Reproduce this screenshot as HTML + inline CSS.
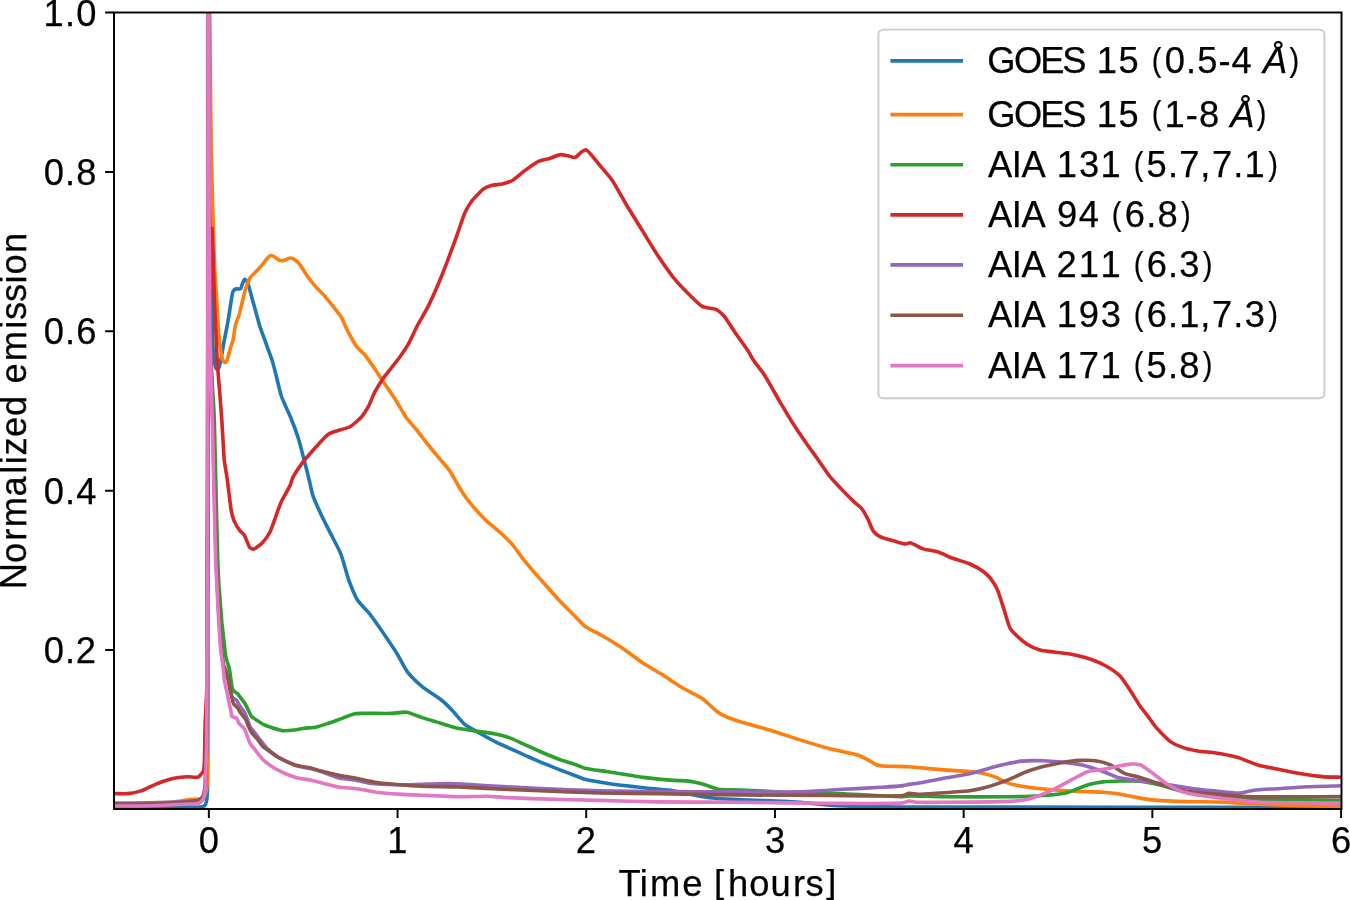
<!DOCTYPE html>
<html><head><meta charset="utf-8"><style>
html,body{margin:0;padding:0;background:#fff;width:1350px;height:900px;overflow:hidden}
svg{display:block;font-family:"Liberation Sans",sans-serif}
text{will-change:transform;stroke:#000;stroke-width:0.25px}
</style></head><body>
<svg width="1350" height="900" viewBox="0 0 1350 900">
<rect width="1350" height="900" fill="#fff"/>
<defs><clipPath id="ax"><rect x="114.0" y="12.5" width="1227.5" height="796.5"/></clipPath></defs>
<g clip-path="url(#ax)" fill="none" stroke-width="3.60" stroke-linejoin="round" stroke-linecap="butt">
<path stroke="#1f77b4" d="M114.00,807.50 C123.20,807.44 151.12,807.25 160.00,807.20 C168.28,807.15 196.36,807.37 200.00,807.00 C201.09,806.89 202.93,806.60 203.50,806.30 C204.01,806.03 205.19,804.84 205.50,804.30 C205.91,803.58 206.61,800.68 206.80,799.50 C207.09,797.71 207.39,791.38 207.50,788.00 L207.90,700.00 L208.20,12.50 C208.35,12.35 208.85,12.35 209.00,12.50 L210.20,150.00 L211.20,250.00 L212.20,320.00 C212.37,327.25 212.87,345.36 213.20,350.00 C213.41,352.95 214.16,359.97 214.50,362.00 C214.75,363.51 215.45,367.80 216.00,368.50 C216.32,368.90 217.66,369.64 218.00,369.50 C218.55,369.28 219.60,365.48 220.00,364.00 C220.76,361.18 223.00,347.29 223.80,343.00 C224.64,338.50 227.45,324.32 228.20,320.00 C228.86,316.19 230.46,305.11 231.00,302.00 C231.41,299.61 232.30,292.82 233.00,291.50 C233.40,290.74 234.96,289.24 235.50,289.00 C235.93,288.81 237.32,288.91 237.80,288.90 C238.33,288.89 240.18,289.20 240.60,288.90 C241.15,288.51 241.84,285.32 242.20,284.40 C242.59,283.42 243.85,279.55 244.40,279.40 C244.80,279.29 246.30,280.58 246.70,281.10 C247.27,281.85 248.45,285.35 248.90,286.70 C249.55,288.66 251.53,296.46 252.20,298.90 C252.87,301.34 254.87,308.51 255.60,311.10 C256.42,314.03 259.07,323.79 260.00,326.70 C260.84,329.31 263.66,336.85 264.40,338.90 C264.93,340.38 266.14,343.76 266.70,345.30 C267.54,347.64 271.07,357.04 272.00,360.00 C272.92,362.92 275.16,371.48 276.00,374.70 C277.01,378.56 280.12,392.48 281.30,396.00 C282.17,398.60 285.06,404.86 286.00,407.00 C286.90,409.05 289.52,414.61 290.50,417.00 C291.90,420.44 296.89,433.84 298.30,438.30 C299.81,443.07 303.83,458.80 305.00,463.30 C305.95,466.97 308.40,476.71 309.20,480.00 C309.97,483.17 311.85,492.42 312.90,495.60 C314.06,499.09 318.90,509.74 320.60,513.40 C322.45,517.38 328.76,529.81 330.80,533.90 C332.84,537.99 339.26,549.91 341.00,554.30 C342.89,559.05 346.95,575.12 348.70,579.90 C350.30,584.26 355.38,596.84 357.60,600.30 C359.56,603.34 366.82,610.26 369.10,613.10 C371.68,616.32 379.26,627.17 381.90,631.00 C384.86,635.29 394.51,649.64 397.20,654.00 C399.52,657.76 404.89,668.62 407.40,671.90 C409.98,675.27 419.41,684.38 422.80,687.20 C426.31,690.12 438.81,697.89 442.00,700.50 C444.53,702.57 450.47,708.47 452.60,710.70 C454.95,713.15 461.64,721.82 464.40,724.10 C467.24,726.45 477.50,731.88 480.70,733.70 C483.73,735.43 492.40,740.29 495.60,741.90 C499.17,743.70 510.69,748.85 514.80,750.70 C519.49,752.82 535.10,759.84 540.00,761.90 C544.56,763.82 558.44,769.24 562.20,770.70 C564.94,771.76 571.72,774.31 574.10,775.20 C576.46,776.09 583.17,778.85 585.90,779.60 C589.44,780.57 601.93,782.59 606.70,783.30 C613.03,784.25 636.71,787.03 643.70,787.80 C649.95,788.49 667.40,789.82 673.30,790.70 C679.26,791.59 698.07,795.90 703.00,796.70 C706.46,797.26 714.27,798.20 717.80,798.50 C723.00,798.94 742.85,799.68 750.00,800.00 C758.90,800.40 791.28,801.57 800.00,802.20 C806.77,802.69 823.56,804.76 830.00,805.20 C837.42,805.71 862.57,806.52 870.00,806.70 C876.43,806.85 890.48,806.95 900.00,807.00 C936.52,807.19 1253.20,807.24 1341.50,807.30"/>
<path stroke="#ff7f0e" d="M114.00,804.00 C121.20,803.96 143.85,804.02 150.00,803.80 C154.59,803.64 166.01,802.92 170.00,802.50 C174.01,802.08 186.90,799.90 190.00,799.60 C191.95,799.41 196.60,799.40 198.00,799.20 C199.13,799.04 202.22,798.62 203.00,798.00 C203.89,797.29 205.57,793.45 206.00,792.00 C206.58,790.05 207.19,783.47 207.40,780.00 L207.90,700.00 L208.60,12.50 C208.81,12.29 209.51,12.31 209.70,12.50 L210.20,60.00 L211.20,150.00 L212.50,200.00 L214.70,270.00 C215.02,276.26 216.19,290.00 216.50,295.00 C216.81,300.00 217.47,315.11 217.80,320.00 C218.12,324.70 219.25,339.15 219.70,343.00 C220.02,345.79 221.09,353.07 221.50,355.00 C221.78,356.32 222.54,359.71 223.00,360.50 C223.32,361.05 224.60,362.50 225.00,362.50 C225.40,362.50 226.65,361.10 227.00,360.50 C227.62,359.43 228.77,353.84 229.30,352.00 C229.94,349.80 232.39,342.58 233.00,340.00 C233.68,337.11 234.89,327.05 235.60,324.40 C236.15,322.36 238.29,317.56 238.90,315.60 C239.64,313.22 241.53,304.87 242.20,302.20 C242.87,299.53 244.78,291.42 245.60,288.90 C246.36,286.55 248.93,279.45 250.00,277.80 C250.78,276.60 253.43,274.31 254.40,273.30 C255.61,272.03 259.79,267.62 261.10,266.10 C262.47,264.52 266.63,258.93 267.80,257.80 C268.53,257.09 270.41,255.39 271.10,255.30 C271.74,255.22 273.71,256.31 274.40,256.70 C275.26,257.19 277.95,259.62 278.90,260.00 C279.74,260.34 282.34,260.71 283.30,260.60 C284.52,260.46 288.79,258.04 290.00,258.00 C290.97,257.97 293.56,258.93 294.40,259.40 C295.35,259.93 297.93,262.20 298.90,263.30 C300.49,265.11 305.96,274.18 307.80,276.70 C309.53,279.07 314.93,285.82 316.70,287.80 C318.25,289.54 322.85,293.86 324.40,295.60 C326.17,297.58 331.59,304.53 333.30,306.70 C334.92,308.75 339.77,314.51 341.10,316.70 C342.47,318.96 345.56,326.68 346.70,329.00 C347.74,331.12 350.94,337.15 352.00,339.00 C352.94,340.66 355.52,345.20 356.70,346.70 C358.05,348.41 363.29,352.96 365.00,355.00 C367.25,357.68 374.47,368.44 376.70,371.70 C378.80,374.77 384.70,383.70 386.70,386.70 C388.70,389.70 394.73,398.60 396.70,401.70 C398.74,404.91 404.57,415.35 406.70,418.30 C408.60,420.93 414.66,427.49 416.70,430.00 C418.97,432.79 426.01,442.14 428.30,445.00 C430.45,447.68 436.75,455.22 438.90,457.80 C441.09,460.44 448.01,468.24 450.00,471.10 C452.02,474.01 457.07,483.74 458.90,486.70 C460.63,489.50 465.60,497.15 467.80,500.00 C470.65,503.68 482.05,516.51 485.60,520.00 C488.70,523.05 498.30,530.71 501.10,533.30 C503.55,535.57 509.97,541.83 512.20,544.40 C514.86,547.46 522.76,558.69 525.60,562.20 C528.53,565.81 537.88,576.35 541.10,580.00 C544.53,583.89 555.41,596.29 558.90,600.00 C562.06,603.36 571.55,612.75 574.40,615.60 C576.82,618.01 583.01,624.78 585.60,626.70 C588.37,628.75 598.10,633.24 601.50,635.20 C605.55,637.53 619.09,645.86 623.30,648.70 C627.44,651.49 639.24,660.61 643.30,663.30 C647.24,665.91 659.46,672.89 663.30,675.30 C666.92,677.57 677.25,684.65 680.70,686.70 C683.93,688.62 694.21,693.88 696.70,695.30 C698.32,696.23 701.81,698.19 703.30,699.30 C705.58,700.99 714.42,709.61 716.70,711.30 C718.19,712.41 721.68,714.50 723.30,715.30 C725.62,716.44 734.47,719.82 738.00,721.00 C743.09,722.71 763.39,728.11 769.60,730.00 C775.65,731.84 793.36,737.75 799.30,739.60 C805.22,741.45 822.95,746.93 828.90,748.50 C834.79,750.05 854.16,753.65 858.50,755.20 C861.19,756.16 867.01,759.37 868.90,760.40 C870.52,761.29 874.86,764.24 876.30,764.80 C877.51,765.27 880.58,765.82 882.20,766.00 C885.60,766.39 903.36,766.37 908.90,766.70 C914.89,767.06 933.85,769.12 940.00,769.60 C945.99,770.07 964.70,770.98 969.60,771.50 C973.08,771.87 981.62,773.07 984.40,773.70 C986.93,774.28 994.04,776.49 996.30,777.40 C998.49,778.28 1004.38,781.74 1006.70,782.60 C1009.35,783.58 1018.22,785.69 1021.50,786.30 C1025.47,787.03 1038.94,788.53 1043.70,789.00 C1049.19,789.54 1067.37,790.88 1073.30,791.20 C1079.23,791.52 1098.09,791.87 1103.00,792.20 C1106.47,792.43 1114.55,793.21 1117.80,793.70 C1121.80,794.30 1135.97,797.44 1140.00,798.10 C1143.32,798.65 1151.63,799.78 1155.20,800.10 C1160.23,800.55 1179.18,801.40 1185.60,801.60 C1192.76,801.82 1216.88,801.84 1223.50,802.10 C1228.64,802.30 1240.96,803.32 1246.30,803.60 C1253.85,804.00 1282.59,805.14 1291.90,805.40 C1301.61,805.67 1331.58,806.04 1341.50,806.20"/>
<path stroke="#2ca02c" d="M114.00,805.50 C121.20,805.44 142.61,805.36 150.00,805.20 C157.79,805.03 185.06,804.04 190.00,803.80 C192.21,803.69 196.65,803.81 198.00,803.30 C199.20,802.85 202.29,800.51 203.00,799.40 C203.88,798.03 204.86,792.55 205.20,790.00 L206.60,750.00 L207.60,500.00 L208.10,12.50 C208.24,12.37 208.67,12.37 208.80,12.50 L209.10,200.00 L209.80,320.00 L211.00,360.00 C211.27,366.43 212.30,385.03 212.60,390.00 C212.81,393.52 213.43,402.00 213.60,405.00 C213.77,408.00 214.14,415.48 214.30,420.00 L217.70,560.00 C217.95,567.03 218.55,579.51 218.90,585.00 L221.80,622.20 L225.70,656.40 C226.37,659.77 229.05,667.35 229.60,670.00 C230.11,672.46 230.85,679.88 231.20,682.00 C231.48,683.70 232.16,688.56 232.70,689.60 C233.06,690.28 234.50,691.59 235.00,692.00 C235.48,692.39 237.14,693.17 237.60,693.60 C238.11,694.08 239.26,695.96 239.80,696.70 C240.63,697.83 244.19,702.34 245.10,703.80 C245.96,705.18 248.03,709.58 248.70,710.90 C249.28,712.05 250.59,715.36 251.40,716.30 C252.30,717.36 256.35,719.85 257.60,720.70 C258.83,721.53 262.42,724.01 263.80,724.70 C265.32,725.46 270.43,727.23 272.20,727.80 C274.10,728.42 280.08,730.36 282.20,730.60 C284.50,730.86 292.09,730.25 294.40,730.00 C296.51,729.77 302.34,728.58 304.40,728.30 C306.57,728.01 313.39,727.63 315.60,727.20 C317.85,726.76 324.49,724.62 326.70,723.90 C328.93,723.18 335.35,720.88 337.80,720.00 C340.84,718.90 351.47,714.33 354.80,713.70 C357.81,713.13 366.34,713.43 369.60,713.40 C373.60,713.36 387.90,713.56 391.90,713.40 C395.17,713.27 403.78,711.82 406.70,712.20 C409.70,712.59 418.53,716.43 421.50,717.40 C424.45,718.37 433.14,720.94 436.30,721.90 C439.90,723.00 451.79,726.91 455.60,727.80 C459.19,728.64 469.55,730.11 473.30,730.70 C477.50,731.36 491.62,733.26 495.60,734.10 C498.88,734.79 507.48,737.05 510.40,738.10 C513.40,739.18 522.24,743.46 525.20,744.80 C528.16,746.14 536.72,750.10 540.00,751.50 C543.97,753.20 558.42,759.06 562.20,760.40 C564.93,761.37 571.74,763.29 574.10,764.10 C576.48,764.91 583.16,767.80 585.90,768.50 C589.43,769.40 601.95,770.78 606.70,771.50 C613.04,772.46 636.70,776.49 643.70,777.40 C649.94,778.21 668.32,780.04 673.30,780.40 C676.91,780.66 685.77,780.68 688.90,781.10 C692.11,781.53 702.40,783.93 705.00,784.70 C706.82,785.24 711.17,787.02 712.60,787.50 C713.85,787.92 716.93,789.04 718.50,789.30 C721.43,789.79 734.93,789.79 740.00,790.00 C747.29,790.30 774.88,791.84 784.40,792.20 C795.40,792.61 831.84,793.25 843.70,793.70 C855.56,794.15 896.81,796.88 903.00,796.70 C905.19,796.64 908.42,795.98 910.40,795.90 C914.34,795.74 932.74,796.60 940.00,796.70 C951.48,796.86 1002.62,796.93 1014.10,796.70 C1021.36,796.55 1038.21,795.92 1043.70,795.50 C1048.47,795.14 1061.52,794.04 1065.90,793.00 C1070.41,791.93 1084.06,785.93 1088.10,784.80 C1091.34,783.89 1099.33,782.29 1103.00,781.90 C1108.73,781.29 1133.75,780.56 1140.00,781.10 C1144.64,781.50 1155.80,784.00 1160.00,785.00 C1164.74,786.12 1179.73,790.92 1185.00,792.00 C1190.69,793.17 1208.93,795.34 1215.00,796.00 C1221.19,796.67 1239.51,798.25 1246.30,798.60 C1254.31,799.01 1280.90,799.31 1290.00,799.50 C1299.88,799.71 1331.20,800.38 1341.50,800.60"/>
<path stroke="#d62728" d="M114.00,793.60 C116.76,793.60 125.08,793.87 127.80,793.60 C130.50,793.33 138.97,791.57 141.10,790.90 C142.60,790.43 145.95,788.80 147.30,788.20 C148.92,787.48 154.41,784.95 156.20,784.20 C157.97,783.45 163.30,781.29 165.10,780.70 C166.86,780.12 172.03,778.68 174.00,778.30 C176.38,777.84 184.78,776.80 187.30,776.70 C189.55,776.61 196.35,777.79 198.00,777.10 C199.42,776.51 202.65,772.72 203.30,771.30 C204.01,769.75 204.25,764.26 204.40,762.00 C204.64,758.54 204.72,744.18 204.80,740.00 C204.88,736.22 205.05,726.11 205.20,722.00 L206.80,690.00 L207.80,500.00 L208.50,300.00 L208.85,232.00 C209.35,230.70 211.52,228.33 212.00,228.50 L213.20,260.00 L214.40,300.00 C214.58,304.69 215.08,315.29 215.30,320.00 L217.20,361.00 C217.60,367.30 219.04,384.15 219.50,390.00 C219.96,395.95 221.37,413.61 221.80,420.00 L224.10,458.90 C224.60,463.61 226.58,474.62 227.20,479.10 L231.10,510.20 C231.66,512.97 233.32,519.06 234.20,521.10 C235.06,523.09 238.56,528.91 239.70,530.40 C240.59,531.56 243.44,533.84 244.30,535.10 C245.53,536.91 248.51,546.24 249.80,547.50 C250.52,548.20 252.81,549.21 253.70,549.10 C255.11,548.93 260.65,544.46 262.20,542.90 C263.95,541.13 268.49,534.84 270.00,532.00 C272.31,527.64 278.61,507.44 280.90,502.40 C282.70,498.44 289.03,488.01 290.20,485.30 C290.92,483.63 291.72,479.94 292.50,478.30 C293.79,475.62 301.08,464.67 303.30,461.70 C305.26,459.09 311.06,452.48 313.30,450.00 C315.96,447.04 325.24,436.19 328.30,434.20 C330.61,432.69 337.75,430.78 340.00,430.00 C342.07,429.29 348.03,427.81 350.00,426.70 C352.38,425.36 359.81,418.84 361.70,416.70 C363.37,414.81 367.06,408.96 368.30,406.70 C369.75,404.05 373.48,394.57 375.00,391.70 C376.49,388.89 381.57,380.79 383.30,378.30 C384.92,375.98 390.03,369.66 391.70,367.50 C393.37,365.34 398.38,358.97 400.00,356.70 C401.70,354.32 406.70,346.99 408.30,344.20 C410.16,340.96 415.28,329.66 417.20,326.00 C419.19,322.20 425.84,310.98 427.90,306.90 C430.16,302.43 436.66,287.80 438.70,283.00 C440.72,278.24 446.33,264.01 448.20,259.10 C450.15,253.98 456.03,237.72 457.80,232.80 C459.35,228.48 463.37,215.96 465.00,212.50 C466.32,209.71 470.41,202.79 472.20,200.50 C474.16,197.99 481.88,190.11 484.10,188.60 C485.61,187.57 489.64,185.97 491.30,185.50 C493.35,184.92 500.98,184.37 503.20,183.80 C505.25,183.27 510.86,181.30 512.80,180.20 C515.17,178.85 522.25,172.46 524.80,170.60 C527.49,168.63 536.43,162.28 539.10,161.10 C541.13,160.20 546.69,159.30 548.70,158.70 C550.97,158.03 558.50,154.78 560.60,154.60 C562.20,154.47 566.36,155.51 567.80,155.80 C569.24,156.09 573.64,157.83 575.00,157.50 C576.52,157.14 580.80,152.26 582.10,151.50 C583.02,150.96 585.42,149.65 586.40,149.90 C588.38,150.40 596.21,161.08 598.70,164.00 C601.33,167.08 609.42,176.31 612.00,180.00 C615.06,184.37 623.60,200.13 626.70,205.30 C629.98,210.78 640.76,228.08 644.00,233.30 C646.83,237.87 654.45,250.40 657.30,254.70 C660.29,259.20 670.12,273.35 673.30,277.30 C675.99,280.65 683.83,289.12 686.70,292.00 C689.70,295.01 699.41,305.03 702.70,306.70 C705.30,308.02 713.79,308.24 716.00,309.30 C717.94,310.23 722.41,314.23 724.00,316.00 C726.16,318.41 732.42,328.69 734.70,332.00 C737.19,335.61 746.00,347.56 748.00,350.70 C749.37,352.84 752.00,358.02 753.30,360.00 C754.92,362.47 761.18,370.11 763.30,373.30 C766.19,377.65 775.89,394.91 778.90,400.00 C781.65,404.65 789.48,417.91 792.20,422.20 C794.82,426.34 803.02,438.47 805.60,442.20 C807.90,445.53 814.38,454.53 816.70,457.80 C819.24,461.40 827.22,473.26 830.00,476.70 C832.56,479.87 840.73,488.43 843.30,491.10 C845.60,493.49 852.42,500.39 854.40,502.20 C855.87,503.55 859.87,506.36 861.10,507.80 C862.60,509.55 866.59,516.59 867.80,518.90 C869.03,521.25 871.89,529.24 873.30,531.10 C874.44,532.60 878.29,535.77 880.00,536.70 C882.24,537.92 891.69,540.34 894.40,541.10 C896.77,541.77 903.88,544.03 905.60,544.00 C906.69,543.98 908.90,542.62 910.00,542.70 C911.96,542.85 920.48,547.96 923.30,548.90 C926.24,549.88 935.96,551.25 938.90,552.20 C941.68,553.10 949.14,556.89 952.00,558.00 C955.29,559.27 966.69,562.52 970.00,564.00 C973.05,565.36 981.80,570.32 984.00,572.00 C985.69,573.29 989.45,577.11 990.70,578.70 C992.14,580.53 996.10,586.93 997.30,589.50 C998.85,592.82 1002.66,605.51 1004.00,609.50 C1005.34,613.47 1008.47,625.87 1010.70,629.30 C1012.97,632.79 1023.47,641.87 1026.70,644.00 C1029.34,645.74 1036.72,649.06 1040.00,650.00 C1044.72,651.35 1064.63,652.97 1070.00,654.00 C1074.43,654.85 1086.27,657.73 1090.00,659.00 C1093.43,660.17 1102.99,664.29 1106.00,666.00 C1108.99,667.70 1117.60,673.60 1120.00,676.00 C1122.40,678.40 1128.04,687.08 1130.00,690.00 C1132.05,693.06 1138.07,703.23 1140.00,706.00 C1141.57,708.24 1146.10,713.79 1147.60,715.80 C1149.14,717.86 1153.31,724.17 1155.20,726.40 C1157.63,729.26 1167.35,739.44 1170.40,741.60 C1172.81,743.31 1179.89,746.48 1182.50,747.40 C1185.32,748.40 1194.51,750.45 1197.70,751.00 C1201.16,751.60 1212.13,752.41 1215.90,753.00 C1220.01,753.64 1233.86,756.36 1237.20,757.30 C1239.43,757.93 1244.35,759.88 1246.30,760.60 C1248.56,761.44 1255.78,764.41 1258.50,765.20 C1261.74,766.14 1272.85,768.22 1276.70,769.00 C1281.00,769.87 1294.93,772.74 1299.50,773.50 C1304.03,774.26 1317.84,776.22 1322.20,776.60 C1326.21,776.95 1337.64,777.16 1341.50,777.30"/>
<path stroke="#9467bd" d="M114.00,803.00 C121.20,802.96 142.61,802.95 150.00,802.80 C157.79,802.64 184.68,802.02 190.00,801.40 C192.68,801.09 198.66,800.17 200.00,799.40 C200.89,798.89 202.52,796.96 203.00,796.00 C203.76,794.49 204.95,787.84 205.30,785.00 L206.60,750.00 L207.60,500.00 L208.10,12.50 C208.20,12.40 208.50,12.40 208.60,12.50 L209.20,200.00 L209.80,320.00 C209.93,328.00 210.40,343.24 210.60,350.00 L212.20,400.00 C212.36,404.90 212.73,414.19 212.90,420.00 L216.20,560.00 L218.80,610.00 L221.20,645.00 C221.66,650.09 222.92,665.27 223.80,668.00 C224.20,669.26 225.80,671.31 226.20,672.30 C226.68,673.50 227.65,677.74 228.00,679.30 C228.44,681.25 229.69,688.45 230.10,690.30 C230.40,691.65 231.10,695.21 231.60,696.10 C232.00,696.81 233.65,698.35 234.20,698.80 C234.71,699.22 236.46,700.02 236.90,700.50 C237.39,701.04 238.25,703.33 238.70,704.10 C239.27,705.08 241.63,708.45 242.30,709.40 C242.86,710.19 244.43,712.12 244.90,713.00 C245.52,714.15 247.06,718.68 247.60,720.10 C248.14,721.52 249.57,725.93 250.30,727.20 C251.00,728.42 253.79,731.44 254.70,732.60 C255.72,733.91 258.84,738.21 260.00,739.70 C261.31,741.39 265.47,746.92 267.20,748.60 C269.16,750.51 276.22,755.88 278.90,757.50 C282.00,759.37 293.34,764.69 296.70,765.80 C299.50,766.72 307.47,767.90 310.00,768.50 C312.33,769.05 318.67,770.72 321.10,771.50 C324.12,772.48 334.39,776.95 337.80,777.80 C341.14,778.63 351.53,779.43 354.80,780.00 C357.88,780.54 366.11,782.83 369.60,783.30 C374.49,783.96 393.36,784.72 399.30,784.80 C405.22,784.88 423.62,784.23 428.90,784.10 C433.15,783.99 444.00,783.56 448.10,783.60 C452.80,783.65 468.05,784.52 473.30,784.80 C479.00,785.11 496.73,786.25 503.00,786.60 C509.99,786.99 531.73,788.13 540.00,788.50 C550.47,788.96 587.44,790.40 599.30,790.70 C611.14,791.00 645.72,791.38 658.50,791.50 C673.50,791.64 724.99,791.86 740.00,791.90 C752.80,791.93 788.30,792.22 799.30,791.90 C808.83,791.62 835.22,789.78 843.70,789.30 C851.44,788.86 874.23,787.72 880.70,787.30 C885.72,786.97 899.75,786.05 903.00,785.60 C904.89,785.34 908.91,784.33 910.40,784.10 C911.87,783.87 915.93,783.59 917.80,783.30 C921.06,782.80 935.24,779.79 940.00,778.90 C945.49,777.87 963.71,775.02 969.60,773.70 C975.57,772.37 993.77,766.91 999.30,765.60 C1004.04,764.47 1017.04,761.58 1021.50,761.10 C1025.92,760.63 1039.71,760.68 1043.70,760.80 C1046.96,760.90 1055.25,761.57 1058.50,761.90 C1062.50,762.31 1076.29,763.86 1080.70,764.80 C1085.19,765.76 1099.02,770.11 1103.00,771.50 C1106.29,772.65 1114.48,776.51 1117.80,777.40 C1121.74,778.46 1135.53,780.06 1140.00,780.70 C1144.53,781.34 1157.92,783.07 1162.80,783.80 C1168.45,784.64 1187.55,787.96 1193.20,788.70 C1198.06,789.34 1211.35,790.57 1215.90,791.00 C1220.45,791.43 1234.61,793.19 1238.70,793.00 C1242.06,792.84 1250.54,790.62 1253.90,790.20 C1257.99,789.69 1271.82,789.02 1276.70,788.70 C1282.33,788.33 1300.74,787.00 1307.00,786.70 C1313.67,786.38 1334.60,785.90 1341.50,785.70"/>
<path stroke="#8c564b" d="M114.00,804.00 C121.20,803.96 142.61,804.02 150.00,803.80 C157.79,803.56 184.68,802.22 190.00,801.60 C192.68,801.29 198.66,800.54 200.00,799.80 C200.89,799.31 202.52,797.43 203.00,796.50 C203.75,795.05 204.95,788.75 205.30,786.00 L206.60,750.00 L207.60,500.00 L208.10,12.50 C208.20,12.40 208.50,12.40 208.60,12.50 L209.20,200.00 L209.80,320.00 C209.93,328.00 210.42,343.24 210.60,350.00 L212.00,400.00 C212.15,404.90 212.53,414.19 212.70,420.00 L216.00,560.00 L218.60,610.00 L221.00,645.00 C221.44,649.56 222.80,662.36 223.50,665.00 C223.87,666.37 225.19,668.84 225.60,670.00 C226.14,671.51 227.71,676.93 228.20,678.90 C228.79,681.28 230.41,689.81 230.90,692.20 C231.30,694.16 232.36,699.84 232.70,701.10 C232.89,701.80 233.29,703.29 233.60,703.80 C233.95,704.38 235.73,706.02 236.20,706.50 C236.59,706.90 237.67,707.85 238.00,708.30 C238.41,708.86 239.33,711.08 239.80,711.80 C240.36,712.67 242.75,715.45 243.40,716.30 C243.97,717.04 245.53,718.94 246.00,719.80 C246.62,720.94 248.13,725.59 248.70,726.90 C249.21,728.07 250.66,731.19 251.40,732.30 C252.33,733.68 256.43,737.96 257.60,739.40 C258.73,740.80 261.87,745.47 262.90,746.50 C263.63,747.24 265.56,748.52 266.50,749.20 C268.23,750.45 276.11,756.24 278.90,757.80 C282.06,759.57 293.34,764.60 296.70,765.60 C299.50,766.43 307.48,767.22 310.00,767.80 C312.34,768.34 318.64,770.45 321.10,771.10 C324.09,771.89 334.44,774.30 337.80,775.00 C341.18,775.70 351.18,777.40 354.80,778.10 C358.95,778.90 372.54,781.93 377.00,782.60 C381.44,783.27 394.84,784.43 399.30,784.80 C403.74,785.17 416.49,786.08 421.50,786.30 C427.96,786.58 450.76,786.73 458.50,787.00 C466.99,787.30 494.51,788.92 503.00,789.30 C510.74,789.65 531.73,790.38 540.00,790.70 C550.47,791.10 587.44,792.70 599.30,793.00 C611.14,793.30 645.72,793.53 658.50,793.70 C673.50,793.90 723.35,794.72 740.00,794.90 C757.39,795.09 811.93,795.44 828.90,795.50 C844.39,795.55 896.52,796.62 903.00,795.50 C904.88,795.17 907.58,793.55 908.90,793.40 C910.48,793.22 915.62,794.35 917.80,794.40 C921.24,794.48 935.24,793.33 940.00,793.00 C945.50,792.61 964.71,791.37 969.60,790.70 C973.08,790.22 981.17,788.65 984.40,787.80 C988.44,786.74 1002.28,782.09 1006.70,780.40 C1011.18,778.68 1024.07,772.35 1028.90,770.70 C1034.32,768.85 1052.98,764.35 1058.50,763.30 C1063.23,762.40 1076.69,760.61 1080.70,760.40 C1083.97,760.23 1092.65,760.37 1095.60,760.80 C1098.59,761.24 1107.52,763.57 1110.40,764.80 C1113.45,766.10 1122.14,772.43 1125.20,773.70 C1128.07,774.89 1136.74,776.46 1140.00,777.40 C1144.09,778.58 1158.22,783.54 1162.80,784.90 C1167.34,786.25 1180.68,790.10 1185.60,791.00 C1191.19,792.02 1209.83,793.44 1215.90,794.00 C1221.97,794.56 1239.60,796.30 1246.30,796.60 C1254.49,796.97 1282.59,796.80 1291.90,796.80 C1301.61,796.80 1331.58,796.64 1341.50,796.60"/>
<path stroke="#e377c2" d="M114.00,806.00 C121.20,805.94 142.61,805.89 150.00,805.70 C157.79,805.50 185.06,804.26 190.00,804.00 C192.21,803.88 196.66,804.03 198.00,803.50 C199.21,803.03 202.29,800.54 203.00,799.40 C203.87,798.00 204.86,792.55 205.20,790.00 L206.60,750.00 L207.60,500.00 L208.10,12.50 C208.25,12.35 208.75,12.35 208.90,12.50 L209.10,200.00 L209.60,320.00 C209.71,328.00 210.13,343.24 210.30,350.00 L211.60,400.00 C211.74,404.90 212.04,414.19 212.20,420.00 L215.60,560.00 L217.90,606.70 L220.20,645.50 C220.71,650.78 222.86,665.08 223.30,668.90 C223.60,671.53 224.03,677.56 224.40,680.00 C224.85,683.01 227.12,693.42 227.80,696.70 C228.46,699.86 230.72,710.13 231.10,712.20 C231.29,713.24 231.24,715.51 231.70,716.10 C232.24,716.80 235.98,717.58 236.70,718.30 C237.42,719.02 238.24,722.33 238.90,723.30 C239.69,724.46 243.43,727.39 244.40,728.90 C245.77,731.02 248.78,741.15 250.00,743.30 C250.83,744.76 253.36,747.59 254.40,748.90 C255.87,750.75 261.40,758.15 263.30,760.00 C264.98,761.63 270.32,765.49 272.20,766.70 C274.10,767.93 279.98,771.16 282.20,772.20 C284.80,773.41 293.82,777.02 296.70,777.80 C299.38,778.53 306.82,779.35 310.00,780.00 C314.81,780.98 335.02,786.50 340.00,787.30 C343.45,787.86 351.55,788.10 354.80,788.50 C358.80,788.99 372.54,791.64 377.00,792.20 C381.44,792.76 394.84,793.80 399.30,794.10 C403.74,794.40 416.50,794.97 421.50,795.20 C427.96,795.49 451.51,796.62 458.50,796.70 C464.75,796.77 483.19,796.04 488.10,796.20 C491.59,796.31 499.35,797.18 503.00,797.40 C508.74,797.75 531.73,798.63 540.00,798.90 C550.47,799.24 587.45,800.10 599.30,800.40 C611.14,800.70 645.71,801.71 658.50,801.90 C673.50,802.13 723.35,802.17 740.00,802.30 C757.39,802.44 811.93,803.25 828.90,803.30 C844.39,803.35 896.51,803.89 903.00,802.90 C904.87,802.62 907.59,801.21 908.90,801.10 C910.49,800.97 915.61,802.15 917.80,802.30 C921.24,802.53 934.26,802.35 940.00,802.30 C950.48,802.22 1004.96,801.85 1014.10,801.10 C1018.21,800.76 1025.69,799.72 1028.90,798.90 C1032.94,797.87 1046.73,792.66 1051.10,790.70 C1055.61,788.68 1069.30,780.96 1073.30,778.90 C1076.55,777.23 1085.06,772.46 1088.10,771.50 C1091.00,770.59 1100.03,769.82 1103.00,769.30 C1105.97,768.78 1115.01,766.84 1117.80,766.30 C1120.29,765.82 1127.31,764.23 1129.60,764.10 C1131.74,763.97 1137.93,764.10 1140.00,764.80 C1142.44,765.62 1149.57,771.02 1152.10,772.80 C1155.00,774.84 1164.17,782.28 1167.30,784.20 C1170.26,786.02 1179.25,790.58 1182.50,791.70 C1185.91,792.87 1196.58,794.81 1200.70,795.50 C1205.99,796.38 1225.02,798.61 1231.10,799.30 C1237.18,799.99 1255.41,802.05 1261.50,802.40 C1267.57,802.75 1285.08,802.73 1291.90,802.80 C1300.61,802.88 1331.58,803.04 1341.50,803.10"/>
</g>
<rect x="114.0" y="12.5" width="1227.5" height="796.5" fill="none" stroke="#000" stroke-width="1.95" stroke-linejoin="miter"/>
<path d="M208.85,809.0 V817.90 M397.55,809.0 V817.90 M586.25,809.0 V817.90 M774.95,809.0 V817.90 M963.65,809.0 V817.90 M1152.35,809.0 V817.90 M1341.05,809.0 V817.90 M114.0,650.02 H105.10 M114.0,490.65 H105.10 M114.0,331.27 H105.10 M114.0,171.90 H105.10 M114.0,12.52 H105.10" stroke="#000" stroke-width="1.95" fill="none"/>
<text y="852.60" font-size="36.3"><tspan x="198.75">0</tspan></text>
<text y="852.60" font-size="36.3"><tspan x="387.26">1</tspan></text>
<text y="852.60" font-size="36.3"><tspan x="575.70">2</tspan></text>
<text y="852.60" font-size="36.3"><tspan x="764.90">3</tspan></text>
<text y="852.60" font-size="36.3"><tspan x="953.55">4</tspan></text>
<text y="852.60" font-size="36.3"><tspan x="1142.12">5</tspan></text>
<text y="852.60" font-size="36.3"><tspan x="1330.95">6</tspan></text>
<text y="663.10" font-size="36.3"><tspan x="43.63 65.00 75.84">0.2</tspan></text>
<text y="503.72" font-size="36.3"><tspan x="43.63 65.00 76.29">0.4</tspan></text>
<text y="344.34" font-size="36.3"><tspan x="43.63 65.00 76.29">0.6</tspan></text>
<text y="184.97" font-size="36.3"><tspan x="43.63 65.00 76.29">0.8</tspan></text>
<text y="25.59" font-size="36.3"><tspan x="43.44 65.00 76.29">1.0</tspan></text>
<text y="895.60" font-size="36.3"><tspan x="618.39 639.66 650.10 682.30 703.25 727.88 749.19 770.43 793.09 805.61">Time hours</tspan></text><text x="-6.19" y="0" font-size="36.3" transform="matrix(1.0 0 0 0.9069 720.22 893.31)">[</text><text x="-3.89" y="0" font-size="36.3" transform="matrix(1.0 0 0 0.9069 830.23 893.31)">]</text>
<text y="0.00" font-size="36.3" transform="translate(26.1,0) rotate(-90)"><tspan x="-589.26 -562.95 -540.75 -527.28 -496.49 -473.89 -464.36 -455.51 -437.10 -415.98 -394.42 -383.42 -361.21 -328.78 -319.92 -302.08 -283.59 -274.43 -253.04">Normalized emission</tspan></text>
<rect x="878.4" y="29.6" width="446" height="368.6" rx="4.8" ry="4.8" fill="#fff" fill-opacity="0.8" stroke="#cccccc" stroke-width="1.95"/>
<path d="M890.4,60.9 H963" stroke="#1f77b4" stroke-width="3.6" fill="none"/>
<text y="72.90" font-size="36.3"><tspan x="987.34 1014.12 1040.32 1062.34 1085.54 1096.65 1118.51 1140.06 1164.72 1186.12 1197.30 1218.58 1231.61 1253.02">GOES 15 0.5-4 </tspan><tspan x="1262.91" font-style="italic">Å</tspan></text><text x="-7.06" y="0" font-size="36.3" transform="matrix(0.8 0 0 0.9064 1157.34 70.63)">(</text><text x="-5.02" y="0" font-size="36.3" transform="matrix(0.8 0 0 0.9064 1293.55 70.63)">)</text>
<path d="M890.4,114.6 H963" stroke="#ff7f0e" stroke-width="3.6" fill="none"/>
<text y="126.60" font-size="36.3"><tspan x="987.34 1014.12 1040.32 1062.34 1085.54 1096.65 1118.51 1140.06 1164.54 1185.87 1198.90 1220.32">GOES 15 1-8 </tspan><tspan x="1230.20" font-style="italic">Å</tspan></text><text x="-7.06" y="0" font-size="36.3" transform="matrix(0.8 0 0 0.9064 1157.34 124.33)">(</text><text x="-5.02" y="0" font-size="36.3" transform="matrix(0.8 0 0 0.9064 1260.84 124.33)">)</text>
<path d="M890.4,164.8 H963" stroke="#2ca02c" stroke-width="3.6" fill="none"/>
<text y="176.80" font-size="36.3"><tspan x="988.04 1011.87 1021.56 1045.78 1056.87 1078.89 1100.44 1122.01 1146.51 1168.02 1179.24 1200.35 1211.91 1233.35 1244.46">AIA 131 5.7,7.1</tspan></text><text x="-7.06" y="0" font-size="36.3" transform="matrix(0.8 0 0 0.9064 1139.27 174.53)">(</text><text x="-5.02" y="0" font-size="36.3" transform="matrix(0.8 0 0 0.9064 1272.21 174.53)">)</text>
<path d="M890.4,214.9 H963" stroke="#d62728" stroke-width="3.6" fill="none"/>
<text y="226.90" font-size="36.3"><tspan x="988.04 1011.87 1021.56 1045.78 1056.95 1078.84 1100.23 1124.87 1146.23 1157.53">AIA 94 6.8</tspan></text><text x="-7.06" y="0" font-size="36.3" transform="matrix(0.8 0 0 0.9064 1117.49 224.63)">(</text><text x="-5.02" y="0" font-size="36.3" transform="matrix(0.8 0 0 0.9064 1185.10 224.63)">)</text>
<path d="M890.4,264.9 H963" stroke="#9467bd" stroke-width="3.6" fill="none"/>
<text y="276.90" font-size="36.3"><tspan x="988.04 1011.87 1021.56 1045.78 1056.61 1078.65 1100.44 1122.01 1146.65 1168.02 1179.36">AIA 211 6.3</tspan></text><text x="-7.06" y="0" font-size="36.3" transform="matrix(0.8 0 0 0.9064 1139.27 274.63)">(</text><text x="-5.02" y="0" font-size="36.3" transform="matrix(0.8 0 0 0.9064 1206.88 274.63)">)</text>
<path d="M890.4,315.2 H963" stroke="#8c564b" stroke-width="3.6" fill="none"/>
<text y="327.20" font-size="36.3"><tspan x="988.04 1011.87 1021.56 1045.78 1056.87 1078.73 1100.67 1122.01 1146.65 1168.02 1179.13 1200.35 1211.91 1233.35 1244.69">AIA 193 6.1,7.3</tspan></text><text x="-7.06" y="0" font-size="36.3" transform="matrix(0.8 0 0 0.9064 1139.27 324.93)">(</text><text x="-5.02" y="0" font-size="36.3" transform="matrix(0.8 0 0 0.9064 1272.21 324.93)">)</text>
<path d="M890.4,365.6 H963" stroke="#e377c2" stroke-width="3.6" fill="none"/>
<text y="377.60" font-size="36.3"><tspan x="988.04 1011.87 1021.56 1045.78 1056.87 1078.77 1100.44 1122.01 1146.51 1168.02 1179.31">AIA 171 5.8</tspan></text><text x="-7.06" y="0" font-size="36.3" transform="matrix(0.8 0 0 0.9064 1139.27 375.33)">(</text><text x="-5.02" y="0" font-size="36.3" transform="matrix(0.8 0 0 0.9064 1206.88 375.33)">)</text>
</svg>
</body></html>
